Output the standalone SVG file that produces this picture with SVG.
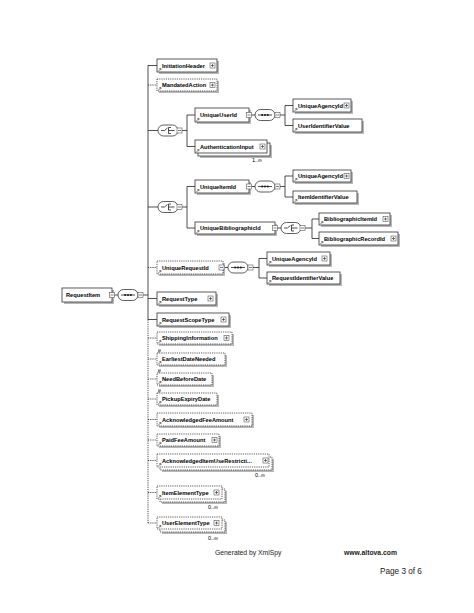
<svg xmlns="http://www.w3.org/2000/svg" xmlns:xlink="http://www.w3.org/1999/xlink" width="474" height="613" viewBox="0 0 474 613">
<style>
.bg{fill:#fff}
.sh{fill:#b8b8b8}
.box{fill:#fff;stroke:#333;stroke-width:0.8}
.opt{stroke-dasharray:1.2 1}
.t{font-family:"Liberation Sans",Arial,sans-serif;font-weight:bold;font-size:5.7px;fill:#000}
.m{font-family:"Liberation Sans",Arial,sans-serif;font-size:5.5px;fill:#000}
.ln{fill:none;stroke:#222;stroke-width:0.8}
.dl{fill:none;stroke:#222;stroke-width:0.8;stroke-dasharray:1.2 1}
.pill{fill:#fff;stroke:#333;stroke-width:0.8}
.ic{fill:#fff;stroke:#555;stroke-width:0.6}
.icl{fill:none;stroke:#222;stroke-width:0.6}
.ft{font-family:"Liberation Sans",Arial,sans-serif;font-size:6.8px;fill:#222}
.pg{font-family:"Liberation Sans",Arial,sans-serif;font-size:8.2px;fill:#222}
</style>
<defs>
<g id="plus"><rect class="ic" x="0" y="0" width="5" height="5"/><path class="icl" d="M1 2.5H4M2.5 1V4"/></g>
<g id="minus"><rect class="ic" x="0" y="0" width="5" height="5"/><path class="icl" d="M1 2.5H4"/></g>
<g id="ref"><path class="icl" d="M0.3 3.7L2.8 1.2M1.3 1.1H2.9V2.7"/></g>
<g id="st"><path class="icl" d="M0 0.5H3M0 1.5H3M0 2.5H2"/></g>
<g id="seq"><rect class="pill" x="0" y="-5.5" width="20" height="11" rx="5.5"/><path class="ln" d="M3 0H17"/><rect x="6.3" y="-0.9" width="1.8" height="1.8" fill="#222"/><rect x="9.1" y="-0.9" width="1.8" height="1.8" fill="#222"/><rect x="11.9" y="-0.9" width="1.8" height="1.8" fill="#222"/></g>
<g id="cho"><rect class="pill" x="0" y="-5.5" width="20" height="11" rx="5.5"/><path class="ln" d="M3 0H6.5L9.5 -2.5M10.5 -3V3M10.5 -3H13M10.5 0H13M10.5 3H13M13 0H16.5"/></g>
</defs>
<rect class="bg" x="0" y="0" width="474" height="613"/>

<g id="connectors">
<path class="ln" d="M114 295H118M143 295H148"/>
<path class="ln" d="M148 65.5V319.5"/>
<path class="dl" d="M148 319.5V523"/>
<path class="ln" d="M148 65.5H157"/>
<path class="dl" d="M148 85H157"/>
<path class="ln" d="M148 130.5H158M182 130.5H187M187 115V146.5M187 115H195M187 146.5H195"/>
<path class="ln" d="M251 115H255M280 115H285M285 105.5V125.5M285 105.5H293M285 125.5H293"/>
<path class="ln" d="M148 207H158M182 207H187M187 186.5V228M187 186.5H195M187 228H195"/>
<path class="ln" d="M251 186.5H255M280 186.5H285M285 176V197M285 176H293M285 197H293"/>
<path class="ln" d="M277 228H281M305 228H312M312 219V238.5M312 219H319M312 238.5H319"/>
<path class="dl" d="M148 267.5H157"/>
<path class="ln" d="M225 267.5H228M253 267.5H259M259 258.5V278M259 258.5H267M259 278H267"/>
<path class="ln" d="M148 298.5H157M148 319.5H157"/>
<path class="dl" d="M148 338H157M148 359H157M148 379H157M148 399H157M148 419.5H157M148 440H157M148 460.5H157M148 492.5H157M148 523H157"/>
</g>

<g id="n-RequestItem">
<rect class="sh" x="64" y="290" width="50" height="14"/>
<rect class="box" x="62" y="288" width="50" height="14"/>
<text class="t" x="66" y="297.2">RequestItem</text>
<use xlink:href="#minus" x="109.5" y="292.5"/>
</g>
<g id="c-main">
<use xlink:href="#seq" x="118" y="295"/>
<use xlink:href="#minus" x="138" y="292.5"/>
</g>

<g id="n-InitiationHeader">
<rect class="sh" x="159" y="61" width="60" height="13"/>
<rect class="box" x="157" y="59" width="60" height="13"/>
<text class="t" x="162" y="67.6">InitiationHeader</text>
<use xlink:href="#plus" x="210" y="63"/>
<use xlink:href="#ref" x="158" y="67.5"/>
</g>
<g id="n-MandatedAction">
<rect class="sh" x="159" y="81" width="60" height="12"/>
<rect class="box opt" x="157" y="79" width="60" height="12"/>
<text class="t" x="162" y="87.1">MandatedAction</text>
<use xlink:href="#plus" x="210" y="82.5"/>
<use xlink:href="#ref" x="158" y="86.5"/>
</g>

<g id="c-choice1">
<use xlink:href="#cho" x="158" y="130.5"/>
<use xlink:href="#minus" x="177" y="128"/>
</g>
<g id="n-UniqueUserId">
<rect class="sh" x="197" y="110" width="54" height="14"/>
<rect class="box" x="195" y="108" width="54" height="14"/>
<text class="t" x="200" y="117.1">UniqueUserId</text>
<use xlink:href="#minus" x="246.5" y="112.5"/>
<use xlink:href="#ref" x="196" y="117.5"/>
</g>
<g id="c-seq1">
<use xlink:href="#seq" x="255" y="115"/>
<use xlink:href="#minus" x="275" y="112.5"/>
</g>
<g id="n-UniqueAgencyId-1">
<rect class="sh" x="295" y="101" width="58" height="13"/>
<rect class="box" x="293" y="99" width="58" height="13"/>
<text class="t" x="298" y="107.6">UniqueAgencyId</text>
<use xlink:href="#plus" x="344" y="103"/>
<use xlink:href="#ref" x="294" y="107.5"/>
</g>
<g id="n-UserIdentifierValue">
<rect class="sh" x="295" y="121" width="69" height="13"/>
<rect class="box" x="293" y="119" width="69" height="13"/>
<text class="t" x="298" y="127.6">UserIdentifierValue</text>
<use xlink:href="#ref" x="294" y="127.5"/>
</g>
<g id="n-AuthenticationInput">
<rect class="sh" x="200" y="145" width="72" height="13"/>
<rect class="box" x="198" y="143" width="72" height="13"/>
<rect class="box" x="195" y="140" width="72" height="13"/>
<text class="t" x="200" y="148.6">AuthenticationInput</text>
<use xlink:href="#plus" x="260" y="144"/>
<use xlink:href="#ref" x="196" y="148.5"/>
<text class="m" x="252" y="162">1..∞</text>
</g>

<g id="c-choice2">
<use xlink:href="#cho" x="158" y="207"/>
<use xlink:href="#minus" x="177" y="204.5"/>
</g>
<g id="n-UniqueItemId">
<rect class="sh" x="197" y="182" width="54" height="13"/>
<rect class="box" x="195" y="180" width="54" height="13"/>
<text class="t" x="200" y="188.6">UniqueItemId</text>
<use xlink:href="#minus" x="246.5" y="184"/>
<use xlink:href="#ref" x="196" y="188.5"/>
</g>
<g id="c-seq2">
<use xlink:href="#seq" x="255" y="186.5"/>
<use xlink:href="#minus" x="275" y="184"/>
</g>
<g id="n-UniqueAgencyId-2">
<rect class="sh" x="295" y="172" width="58" height="12"/>
<rect class="box" x="293" y="170" width="58" height="12"/>
<text class="t" x="298" y="178.1">UniqueAgencyId</text>
<use xlink:href="#plus" x="344" y="173.5"/>
<use xlink:href="#ref" x="294" y="177.5"/>
</g>
<g id="n-ItemIdentifierValue">
<rect class="sh" x="295" y="193" width="64" height="12"/>
<rect class="box" x="293" y="191" width="64" height="12"/>
<text class="t" x="298" y="199.1">ItemIdentifierValue</text>
<use xlink:href="#ref" x="294" y="198.5"/>
</g>
<g id="n-UniqueBibliographicId">
<rect class="sh" x="197" y="224" width="80" height="12"/>
<rect class="box" x="195" y="222" width="80" height="12"/>
<text class="t" x="200" y="230.1">UniqueBibliographicId</text>
<use xlink:href="#minus" x="272.5" y="225.5"/>
<use xlink:href="#ref" x="196" y="229.5"/>
</g>
<g id="c-choice3">
<use xlink:href="#cho" x="281" y="228"/>
<use xlink:href="#minus" x="300" y="225.5"/>
</g>
<g id="n-BibliographicItemId">
<rect class="sh" x="321" y="215" width="71" height="12"/>
<rect class="box" x="319" y="213" width="71" height="12"/>
<text class="t" x="324" y="221.1">BibliographicItemId</text>
<use xlink:href="#plus" x="383" y="216.5"/>
<use xlink:href="#ref" x="320" y="220.5"/>
</g>
<g id="n-BibliographicRecordId">
<rect class="sh" x="321" y="234" width="79" height="13"/>
<rect class="box" x="319" y="232" width="79" height="13"/>
<text class="t" x="324" y="240.6">BibliographicRecordId</text>
<use xlink:href="#plus" x="391" y="236"/>
<use xlink:href="#ref" x="320" y="240.5"/>
</g>

<g id="n-UniqueRequestId">
<rect class="sh" x="159" y="263" width="66" height="13"/>
<rect class="box opt" x="157" y="261" width="66" height="13"/>
<text class="t" x="162" y="269.6">UniqueRequestId</text>
<use xlink:href="#minus" x="219" y="265"/>
<use xlink:href="#ref" x="158" y="269.5"/>
</g>
<g id="c-seq3">
<use xlink:href="#seq" x="228" y="267.5"/>
<use xlink:href="#minus" x="248" y="265"/>
</g>
<g id="n-UniqueAgencyId-3">
<rect class="sh" x="269" y="254" width="63" height="13"/>
<rect class="box" x="267" y="252" width="63" height="13"/>
<text class="t" x="272" y="260.6">UniqueAgencyId</text>
<use xlink:href="#plus" x="322" y="256"/>
<use xlink:href="#ref" x="268" y="260.5"/>
</g>
<g id="n-RequestIdentifierValue">
<rect class="sh" x="269" y="274" width="73" height="12"/>
<rect class="box" x="267" y="272" width="73" height="12"/>
<text class="t" x="272" y="280.1">RequestIdentifierValue</text>
<use xlink:href="#ref" x="268" y="279.5"/>
</g>

<g id="n-RequestType">
<rect class="sh" x="159" y="294" width="59" height="13"/>
<rect class="box" x="157" y="292" width="59" height="13"/>
<text class="t" x="162" y="300.6">RequestType</text>
<use xlink:href="#plus" x="208" y="296"/>
<use xlink:href="#ref" x="158" y="300.5"/>
</g>
<g id="n-RequestScopeType">
<rect class="sh" x="159" y="315" width="72" height="13"/>
<rect class="box" x="157" y="313" width="72" height="13"/>
<text class="t" x="162" y="321.6">RequestScopeType</text>
<use xlink:href="#plus" x="221" y="317"/>
<use xlink:href="#ref" x="158" y="321.5"/>
</g>
<g id="n-ShippingInformation">
<rect class="sh" x="159" y="334" width="75" height="12"/>
<rect class="box opt" x="157" y="332" width="75" height="12"/>
<text class="t" x="162" y="340.1">ShippingInformation</text>
<use xlink:href="#plus" x="224" y="335.5"/>
<use xlink:href="#ref" x="158" y="339.5"/>
</g>
<g id="n-EarliestDateNeeded">
<rect class="sh" x="159" y="355" width="68" height="12"/>
<rect class="box opt" x="157" y="353" width="68" height="12"/>
<text class="t" x="162" y="361.1">EarliestDateNeeded</text>
<use xlink:href="#st" x="158" y="349.5"/>
<use xlink:href="#ref" x="158" y="360.5"/>
</g>
<g id="n-NeedBeforeDate">
<rect class="sh" x="159" y="375" width="55" height="12"/>
<rect class="box opt" x="157" y="373" width="55" height="12"/>
<text class="t" x="162" y="381.1">NeedBeforeDate</text>
<use xlink:href="#st" x="158" y="369.5"/>
<use xlink:href="#ref" x="158" y="380.5"/>
</g>
<g id="n-PickupExpiryDate">
<rect class="sh" x="159" y="395" width="60" height="12"/>
<rect class="box opt" x="157" y="393" width="60" height="12"/>
<text class="t" x="162" y="401.1">PickupExpiryDate</text>
<use xlink:href="#st" x="158" y="389.5"/>
<use xlink:href="#ref" x="158" y="400.5"/>
</g>
<g id="n-AcknowledgedFeeAmount">
<rect class="sh" x="159" y="415" width="95" height="13"/>
<rect class="box opt" x="157" y="413" width="95" height="13"/>
<text class="t" x="162" y="421.6">AcknowledgedFeeAmount</text>
<use xlink:href="#plus" x="244" y="417"/>
<use xlink:href="#ref" x="158" y="421.5"/>
</g>
<g id="n-PaidFeeAmount">
<rect class="sh" x="159" y="436" width="62" height="12"/>
<rect class="box opt" x="157" y="434" width="62" height="12"/>
<text class="t" x="162" y="442.1">PaidFeeAmount</text>
<use xlink:href="#plus" x="212" y="437.5"/>
<use xlink:href="#ref" x="158" y="441.5"/>
</g>
<g id="n-AcknowledgedItemUseRestrictions">
<rect class="sh" x="162" y="459" width="112" height="13"/>
<rect class="box opt" x="160" y="457" width="112" height="13"/>
<rect class="box opt" x="157" y="454" width="112" height="13"/>
<text class="t" x="162" y="462.6">AcknowledgedItemUseRestricti...</text>
<use xlink:href="#plus" x="263" y="458"/>
<use xlink:href="#ref" x="158" y="462.5"/>
<text class="m" x="255" y="477">0..∞</text>
</g>
<g id="n-ItemElementType">
<rect class="sh" x="162" y="491" width="65" height="13"/>
<rect class="box opt" x="160" y="489" width="65" height="13"/>
<rect class="box opt" x="157" y="486" width="65" height="13"/>
<text class="t" x="162" y="494.6">ItemElementType</text>
<use xlink:href="#plus" x="214" y="490"/>
<use xlink:href="#ref" x="158" y="494.5"/>
<text class="m" x="208" y="509">0..∞</text>
</g>
<g id="n-UserElementType">
<rect class="sh" x="162" y="522" width="65" height="12"/>
<rect class="box opt" x="160" y="520" width="65" height="12"/>
<rect class="box opt" x="157" y="517" width="65" height="12"/>
<text class="t" x="162" y="525.1">UserElementType</text>
<use xlink:href="#plus" x="214" y="520.5"/>
<use xlink:href="#ref" x="158" y="524.5"/>
<text class="m" x="208" y="540">0..∞</text>
</g>

<g id="footer">
<text class="ft" x="215" y="555">Generated by XmlSpy</text>
<text class="ft" x="344" y="555" font-weight="bold">www.altova.com</text>
<text class="pg" x="380" y="574">Page 3 of 6</text>
</g>
</svg>
